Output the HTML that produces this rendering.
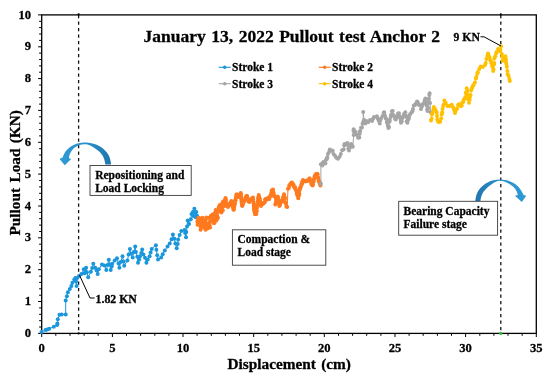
<!DOCTYPE html>
<html lang="en"><head><meta charset="utf-8"><title>January 13, 2022 Pullout test Anchor 2</title>
<style>html,body{margin:0;padding:0;background:#fff}svg{display:block}</style></head>
<body>
<svg width="550" height="379" viewBox="0 0 550 379" font-family="'Liberation Serif', 'Times New Roman', serif" font-weight="bold" fill="#000">
<style>text{stroke:#000;stroke-width:0.28px;paint-order:stroke}</style>
<rect width="550" height="379" fill="#fff"/>
<path d="M38.1,333.4H41.7M39.1,327.0H41.7M39.1,320.7H41.7M39.1,314.3H41.7M39.1,307.9H41.7M38.1,301.5H41.7M39.1,295.2H41.7M39.1,288.8H41.7M39.1,282.4H41.7M39.1,276.1H41.7M38.1,269.7H41.7M39.1,263.3H41.7M39.1,257.0H41.7M39.1,250.6H41.7M39.1,244.2H41.7M38.1,237.8H41.7M39.1,231.5H41.7M39.1,225.1H41.7M39.1,218.7H41.7M39.1,212.4H41.7M38.1,206.0H41.7M39.1,199.6H41.7M39.1,193.3H41.7M39.1,186.9H41.7M39.1,180.5H41.7M38.1,174.1H41.7M39.1,167.8H41.7M39.1,161.4H41.7M39.1,155.0H41.7M39.1,148.7H41.7M38.1,142.3H41.7M39.1,135.9H41.7M39.1,129.6H41.7M39.1,123.2H41.7M39.1,116.8H41.7M38.1,110.4H41.7M39.1,104.1H41.7M39.1,97.7H41.7M39.1,91.3H41.7M39.1,85.0H41.7M38.1,78.6H41.7M39.1,72.2H41.7M39.1,65.9H41.7M39.1,59.5H41.7M39.1,53.1H41.7M38.1,46.8H41.7M39.1,40.4H41.7M39.1,34.0H41.7M39.1,27.6H41.7M39.1,21.3H41.7M38.1,14.9H41.7M41.7,333.4V337.0M55.8,333.4V335.8M70.0,333.4V335.8M84.1,333.4V335.8M98.2,333.4V335.8M112.4,333.4V337.0M126.5,333.4V335.8M140.6,333.4V335.8M154.8,333.4V335.8M168.9,333.4V335.8M183.0,333.4V337.0M197.1,333.4V335.8M211.3,333.4V335.8M225.4,333.4V335.8M239.5,333.4V335.8M253.7,333.4V337.0M267.8,333.4V335.8M281.9,333.4V335.8M296.1,333.4V335.8M310.2,333.4V335.8M324.3,333.4V337.0M338.5,333.4V335.8M352.6,333.4V335.8M366.7,333.4V335.8M380.9,333.4V335.8M395.0,333.4V337.0M409.1,333.4V335.8M423.2,333.4V335.8M437.4,333.4V335.8M451.5,333.4V335.8M465.6,333.4V337.0M479.8,333.4V335.8M493.9,333.4V335.8M508.0,333.4V335.8M522.2,333.4V335.8M536.3,333.4V337.0" stroke="#000" stroke-width="1" fill="none"/>
<line x1="78.6" y1="14.9" x2="78.6" y2="333.4" stroke="#111" stroke-width="1.3" stroke-dasharray="3.4,3.1"/>
<circle cx="78.6" cy="14.3" r="1.1" fill="#000"/>
<line x1="500.8" y1="14.9" x2="500.8" y2="333.4" stroke="#111" stroke-width="1.3" stroke-dasharray="3.4,3.1"/>
<circle cx="500.8" cy="14.3" r="1.1" fill="#000"/>
<circle cx="78.6" cy="333.4" r="1.1" fill="#000"/>
<rect x="41.7" y="14.9" width="494.59999999999997" height="318.5" fill="none" stroke="#000" stroke-width="1.3"/>
<circle cx="500.8" cy="333.4" r="1.6" fill="#2fbf3a"/>
<text x="31" y="337.0" font-size="12.6" text-anchor="end">0</text>
<text x="31" y="305.1" font-size="12.6" text-anchor="end">1</text>
<text x="31" y="273.3" font-size="12.6" text-anchor="end">2</text>
<text x="31" y="241.4" font-size="12.6" text-anchor="end">3</text>
<text x="31" y="209.6" font-size="12.6" text-anchor="end">4</text>
<text x="31" y="177.7" font-size="12.6" text-anchor="end">5</text>
<text x="31" y="145.9" font-size="12.6" text-anchor="end">6</text>
<text x="31" y="114.0" font-size="12.6" text-anchor="end">7</text>
<text x="31" y="82.2" font-size="12.6" text-anchor="end">8</text>
<text x="31" y="50.4" font-size="12.6" text-anchor="end">9</text>
<text x="31" y="18.5" font-size="12.6" text-anchor="end">10</text>
<text x="41.7" y="352.1" font-size="12.6" text-anchor="middle">0</text>
<text x="112.4" y="352.1" font-size="12.6" text-anchor="middle">5</text>
<text x="183.0" y="352.1" font-size="12.6" text-anchor="middle">10</text>
<text x="253.7" y="352.1" font-size="12.6" text-anchor="middle">15</text>
<text x="324.3" y="352.1" font-size="12.6" text-anchor="middle">20</text>
<text x="395.0" y="352.1" font-size="12.6" text-anchor="middle">25</text>
<text x="465.6" y="352.1" font-size="12.6" text-anchor="middle">30</text>
<text x="536.3" y="352.1" font-size="12.6" text-anchor="middle">35</text>
<text x="289.2" y="369.3" font-size="15.3" text-anchor="middle" word-spacing="1.5">Displacement (cm)</text>
<text transform="translate(19.6,172.8) rotate(-90)" font-size="15.3" text-anchor="middle" word-spacing="1.5">Pullout Load (KN)</text>
<text x="143.6" y="42.3" font-size="17.5" word-spacing="1.1">January 13, 2022 Pullout test Anchor 2</text>
<path d="M41.5,332.0 L45.5,330.0 L47.2,329.4 L49.2,328.7 L53.8,326.7 L57.1,325.0 L57.4,323.6 L57.8,319.3 L59.5,314.8 L61.7,314.4 L65.7,314.4 L65.7,300.6 L66.9,296.2 L67.9,292.3 L69.8,289.1 L71.4,286.0 L72.4,282.8 L74.3,279.6 L75.4,278.0 L76.0,281.4 L76.6,286.0 L77.1,278.0 L79.0,276.0 L81.4,274.0 L83.8,269.3 L84.6,273.3 L86.1,267.7 L86.9,272.2 L88.2,277.2 L90.9,271.7 L92.2,268.0 L93.3,263.8 L95.2,267.7 L96.6,270.6 L97.7,274.0 L98.8,269.3 L102.0,264.6 L104.4,265.4 L106.3,270.1 L107.6,264.9 L108.8,259.8 L109.7,264.5 L110.7,270.1 L111.7,266.6 L112.3,263.8 L114.7,260.6 L117.0,258.2 L118.5,263.5 L119.4,267.7 L120.7,262.0 L122.5,256.3 L123.5,261.6 L124.2,265.8 L127.4,260.5 L128.6,254.4 L129.9,248.9 L131.1,253.7 L132.7,257.4 L133.8,252.0 L135.2,246.4 L135.9,251.9 L137.3,256.8 L138.0,262.7 L139.2,259.5 L140.0,256.3 L141.3,253.1 L142.2,249.5 L143.4,254.4 L145.0,257.7 L146.4,262.7 L147.7,259.5 L149.6,256.3 L150.6,252.4 L151.7,248.9 L155.9,245.3 L156.4,249.8 L157.2,255.2 L158.0,259.5 L161.2,257.4 L162.7,254.2 L164.8,250.4 L167.5,246.5 L169.7,243.6 L171.6,239.3 L172.9,234.5 L174.4,238.8 L175.4,243.6 L176.7,248.3 L177.7,244.0 L178.1,239.4 L179.6,235.1 L181.3,230.9 L184.5,229.9 L185.1,233.1 L186.0,237.3 L186.3,232.1 L187.0,226.6 L187.7,220.4 L189.0,224.0 L190.8,219.3 L191.5,214.0 L192.9,211.9 L193.3,216.0 L193.7,212.1 L194.4,208.7 L195.0,213.0 L195.7,217.2 L196.3,212.0 L197.2,216.1 L198.0,219.0" fill="none" stroke="#1A96DC" stroke-width="1.0" stroke-linejoin="round"/>
<g fill="#1A96DC"><circle cx="41.5" cy="332.0" r="2.0"/><circle cx="45.5" cy="330.0" r="2.0"/><circle cx="47.2" cy="329.4" r="2.0"/><circle cx="49.2" cy="328.7" r="2.0"/><circle cx="53.8" cy="326.7" r="2.0"/><circle cx="57.1" cy="325.0" r="2.0"/><circle cx="57.4" cy="323.6" r="2.0"/><circle cx="57.8" cy="319.3" r="2.0"/><circle cx="59.5" cy="314.8" r="2.0"/><circle cx="61.7" cy="314.4" r="2.0"/><circle cx="65.7" cy="314.4" r="2.0"/><circle cx="65.7" cy="300.6" r="2.0"/><circle cx="66.9" cy="296.2" r="2.0"/><circle cx="67.9" cy="292.3" r="2.0"/><circle cx="69.8" cy="289.1" r="2.0"/><circle cx="71.4" cy="286.0" r="2.0"/><circle cx="72.4" cy="282.8" r="2.0"/><circle cx="74.3" cy="279.6" r="2.0"/><circle cx="75.4" cy="278.0" r="2.0"/><circle cx="76.0" cy="281.4" r="2.0"/><circle cx="76.6" cy="286.0" r="2.0"/><circle cx="77.1" cy="278.0" r="2.0"/><circle cx="79.0" cy="276.0" r="2.0"/><circle cx="81.4" cy="274.0" r="2.0"/><circle cx="83.8" cy="269.3" r="2.0"/><circle cx="84.6" cy="273.3" r="2.0"/><circle cx="86.1" cy="267.7" r="2.0"/><circle cx="86.9" cy="272.2" r="2.0"/><circle cx="88.2" cy="277.2" r="2.0"/><circle cx="90.9" cy="271.7" r="2.0"/><circle cx="92.2" cy="268.0" r="2.0"/><circle cx="93.3" cy="263.8" r="2.0"/><circle cx="95.2" cy="267.7" r="2.0"/><circle cx="96.6" cy="270.6" r="2.0"/><circle cx="97.7" cy="274.0" r="2.0"/><circle cx="98.8" cy="269.3" r="2.0"/><circle cx="102.0" cy="264.6" r="2.0"/><circle cx="104.4" cy="265.4" r="2.0"/><circle cx="106.3" cy="270.1" r="2.0"/><circle cx="107.6" cy="264.9" r="2.0"/><circle cx="108.8" cy="259.8" r="2.0"/><circle cx="109.7" cy="264.5" r="2.0"/><circle cx="110.7" cy="270.1" r="2.0"/><circle cx="111.7" cy="266.6" r="2.0"/><circle cx="112.3" cy="263.8" r="2.0"/><circle cx="114.7" cy="260.6" r="2.0"/><circle cx="117.0" cy="258.2" r="2.0"/><circle cx="118.5" cy="263.5" r="2.0"/><circle cx="119.4" cy="267.7" r="2.0"/><circle cx="120.7" cy="262.0" r="2.0"/><circle cx="122.5" cy="256.3" r="2.0"/><circle cx="123.5" cy="261.6" r="2.0"/><circle cx="124.2" cy="265.8" r="2.0"/><circle cx="127.4" cy="260.5" r="2.0"/><circle cx="128.6" cy="254.4" r="2.0"/><circle cx="129.9" cy="248.9" r="2.0"/><circle cx="131.1" cy="253.7" r="2.0"/><circle cx="132.7" cy="257.4" r="2.0"/><circle cx="133.8" cy="252.0" r="2.0"/><circle cx="135.2" cy="246.4" r="2.0"/><circle cx="135.9" cy="251.9" r="2.0"/><circle cx="137.3" cy="256.8" r="2.0"/><circle cx="138.0" cy="262.7" r="2.0"/><circle cx="139.2" cy="259.5" r="2.0"/><circle cx="140.0" cy="256.3" r="2.0"/><circle cx="141.3" cy="253.1" r="2.0"/><circle cx="142.2" cy="249.5" r="2.0"/><circle cx="143.4" cy="254.4" r="2.0"/><circle cx="145.0" cy="257.7" r="2.0"/><circle cx="146.4" cy="262.7" r="2.0"/><circle cx="147.7" cy="259.5" r="2.0"/><circle cx="149.6" cy="256.3" r="2.0"/><circle cx="150.6" cy="252.4" r="2.0"/><circle cx="151.7" cy="248.9" r="2.0"/><circle cx="155.9" cy="245.3" r="2.0"/><circle cx="156.4" cy="249.8" r="2.0"/><circle cx="157.2" cy="255.2" r="2.0"/><circle cx="158.0" cy="259.5" r="2.0"/><circle cx="161.2" cy="257.4" r="2.0"/><circle cx="162.7" cy="254.2" r="2.0"/><circle cx="164.8" cy="250.4" r="2.0"/><circle cx="167.5" cy="246.5" r="2.0"/><circle cx="169.7" cy="243.6" r="2.0"/><circle cx="171.6" cy="239.3" r="2.0"/><circle cx="172.9" cy="234.5" r="2.0"/><circle cx="174.4" cy="238.8" r="2.0"/><circle cx="175.4" cy="243.6" r="2.0"/><circle cx="176.7" cy="248.3" r="2.0"/><circle cx="177.7" cy="244.0" r="2.0"/><circle cx="178.1" cy="239.4" r="2.0"/><circle cx="179.6" cy="235.1" r="2.0"/><circle cx="181.3" cy="230.9" r="2.0"/><circle cx="184.5" cy="229.9" r="2.0"/><circle cx="185.1" cy="233.1" r="2.0"/><circle cx="186.0" cy="237.3" r="2.0"/><circle cx="186.3" cy="232.1" r="2.0"/><circle cx="187.0" cy="226.6" r="2.0"/><circle cx="187.7" cy="220.4" r="2.0"/><circle cx="189.0" cy="224.0" r="2.0"/><circle cx="190.8" cy="219.3" r="2.0"/><circle cx="191.5" cy="214.0" r="2.0"/><circle cx="192.9" cy="211.9" r="2.0"/><circle cx="193.3" cy="216.0" r="2.0"/><circle cx="193.7" cy="212.1" r="2.0"/><circle cx="194.4" cy="208.7" r="2.0"/><circle cx="195.0" cy="213.0" r="2.0"/><circle cx="195.7" cy="217.2" r="2.0"/><circle cx="196.3" cy="212.0" r="2.0"/><circle cx="197.2" cy="216.1" r="2.0"/><circle cx="198.0" cy="219.0" r="2.0"/></g>

<path d="M197.4,221.2 L197.6,224.7 L197.9,223.5 L198.2,218.2 L198.5,217.7 L198.9,218.0 L199.1,222.5 L199.5,218.6 L199.8,225.2 L200.3,224.5 L200.6,229.7 L200.8,228.2 L201.1,218.9 L201.3,221.0 L201.8,219.3 L202.2,225.3 L202.5,224.1 L202.7,217.8 L203.0,225.8 L203.3,221.1 L203.7,222.9 L203.9,227.3 L204.4,220.2 L204.7,223.8 L205.2,226.5 L205.5,229.7 L205.7,222.4 L206.1,219.0 L206.5,217.5 L206.9,226.9 L207.3,228.4 L207.6,226.0 L207.9,224.5 L208.3,227.9 L208.8,223.2 L209.2,217.8 L209.6,225.4 L210.1,227.6 L210.3,221.5 L210.7,216.2 L211.1,217.6 L211.3,215.8 L211.7,216.1 L212.0,219.1 L212.5,214.5 L212.8,220.1 L213.3,222.9 L213.7,215.5 L214.1,216.2 L214.5,223.0 L214.8,213.0 L215.0,213.4 L215.4,217.3 L215.7,209.9 L216.0,213.9 L216.4,220.4 L216.8,214.7 L217.2,216.1 L217.4,218.4 L217.8,217.6 L218.3,211.5 L218.6,207.8 L219.0,206.9 L219.2,208.3 L219.4,209.4 L219.6,205.4 L219.9,206.2 L220.2,205.0 L220.7,210.9 L220.9,206.6 L221.2,207.5 L221.4,212.5 L221.9,207.7 L222.3,203.1 L222.5,205.6 L222.8,210.6 L223.0,201.4 L223.5,206.4 L223.8,206.3 L224.0,205.8 L224.5,203.0 L225.0,202.3 L224.9,200.2 L225.1,200.0 L225.5,198.0 L225.7,199.9 L225.8,199.7 L226.3,202.9 L226.5,203.6 L226.5,204.0 L227.2,205.6 L227.3,206.0 L228.0,207.0 L228.9,204.8 L230.0,205.0 L230.2,203.1 L230.7,202.8 L231.3,201.0 L231.9,202.1 L232.2,204.8 L232.5,204.4 L232.5,206.0 L232.7,206.6 L233.0,207.8 L233.5,209.8 L233.8,209.5 L234.2,207.1 L234.3,206.7 L234.3,205.0 L235.0,204.0 L235.0,202.0 L235.4,200.7 L235.3,200.3 L235.6,199.0 L236.2,196.7 L236.1,196.9 L236.4,194.5 L237.2,194.5 L237.6,195.3 L238.5,197.0 L239.3,196.8 L239.4,195.8 L240.4,194.4 L240.7,193.0 L240.8,194.5 L240.8,194.5 L241.5,197.6 L241.4,199.7 L241.5,200.0 L241.6,202.2 L242.0,201.6 L241.8,203.1 L241.9,205.0 L242.2,206.0 L242.5,204.5 L242.9,204.6 L243.5,202.1 L244.0,201.0 L244.7,200.8 L245.2,199.6 L245.9,197.3 L246.5,196.0 L247.0,195.9 L247.5,197.5 L248.0,199.5 L248.5,201.5 L249.5,202.0 L250.0,200.9 L251.0,200.1 L251.5,199.0 L252.1,198.2 L253.0,197.4 L253.2,199.6 L253.0,200.5 L253.2,201.3 L253.7,203.4 L253.7,205.5 L254.0,206.2 L253.9,207.8 L254.0,209.3 L254.3,211.0 L254.6,211.7 L254.9,214.0 L255.2,214.0 L256.0,214.0 L256.3,213.7 L256.6,210.8 L256.6,211.3 L256.9,207.9 L256.7,207.4 L256.9,205.6 L257.3,205.0 L257.2,204.0 L257.9,203.2 L257.7,201.3 L258.2,198.4 L258.5,199.1 L258.3,197.6 L258.7,195.0 L258.9,196.2 L259.5,198.3 L259.3,198.4 L259.7,199.4 L260.0,201.0 L260.1,201.8 L260.6,202.3 L260.8,204.6 L261.0,206.0 L261.5,204.6 L262.7,204.0 L263.4,203.0 L263.7,203.3 L264.8,202.2 L265.0,199.4 L265.8,199.0 L266.6,199.7 L267.8,198.0 L269.0,199.0 L269.4,198.8 L270.2,195.9 L270.2,196.3 L271.0,194.5 L271.4,192.7 L271.7,190.5 L272.6,190.4 L273.0,189.5 L273.0,192.1 L273.7,193.1 L273.7,194.7 L273.9,196.1 L274.5,196.6 L275.3,204.6 L275.7,202.8 L276.1,203.0 L276.4,199.6 L276.9,198.6 L277.1,197.1 L277.7,196.6 L277.7,197.2 L278.0,198.8 L278.5,200.1 L278.6,201.1 L278.8,202.1 L278.9,203.4 L279.3,206.0 L280.0,205.0 L280.3,203.6 L281.3,201.5 L281.6,201.4 L282.3,199.8 L282.6,199.4 L283.0,197.2 L283.6,197.0 L284.0,194.3 L284.2,196.6 L284.7,197.6 L284.7,198.3 L284.8,199.1 L285.1,202.2 L285.6,203.0 L286.0,203.5 L286.4,206.6 L287.2,207.0 L288.0,188.7 L288.9,187.9 L289.2,185.6 L290.0,185.0 L290.5,184.0 L291.1,183.1 L292.0,182.4 L292.4,184.5 L293.3,184.3 L293.5,185.0 L294.1,187.3 L295.0,187.2 L295.3,188.0 L295.6,189.3 L296.3,190.8 L296.8,192.0 L296.9,193.3 L297.1,193.9 L297.5,195.5 L297.7,195.7 L298.3,198.2 L298.4,196.1 L298.8,195.6 L299.1,194.5 L299.3,193.8 L299.3,191.0 L299.9,189.1 L299.8,188.7 L300.4,187.9 L300.4,187.2 L301.3,185.5 L301.5,184.0 L302.1,183.5 L302.3,181.4 L303.0,180.0 L304.1,181.1 L305.3,181.4 L306.2,180.8 L307.3,181.0 L308.4,179.7 L309.3,178.4 L309.7,178.4 L310.2,180.4 L311.0,182.0 L311.3,184.1 L312.0,184.7 L312.5,185.6 L312.9,184.7 L313.1,181.5 L313.6,182.0 L313.7,180.0 L314.1,178.8 L314.6,176.2 L314.9,176.0 L315.8,174.6 L316.2,173.9 L317.2,173.7 L317.7,174.4 L318.0,177.8 L318.2,177.7 L318.5,179.9 L318.8,180.8 L319.4,182.3 L319.7,182.1 L319.8,183.8 L320.4,185.6" fill="none" stroke="#FF7A1F" stroke-width="1.0" stroke-linejoin="round"/>
<g fill="#FF7A1F"><circle cx="197.4" cy="221.2" r="2.0"/><circle cx="197.6" cy="224.7" r="2.0"/><circle cx="197.9" cy="223.5" r="2.0"/><circle cx="198.2" cy="218.2" r="2.0"/><circle cx="198.5" cy="217.7" r="2.0"/><circle cx="198.9" cy="218.0" r="2.0"/><circle cx="199.1" cy="222.5" r="2.0"/><circle cx="199.5" cy="218.6" r="2.0"/><circle cx="199.8" cy="225.2" r="2.0"/><circle cx="200.3" cy="224.5" r="2.0"/><circle cx="200.6" cy="229.7" r="2.0"/><circle cx="200.8" cy="228.2" r="2.0"/><circle cx="201.1" cy="218.9" r="2.0"/><circle cx="201.3" cy="221.0" r="2.0"/><circle cx="201.8" cy="219.3" r="2.0"/><circle cx="202.2" cy="225.3" r="2.0"/><circle cx="202.5" cy="224.1" r="2.0"/><circle cx="202.7" cy="217.8" r="2.0"/><circle cx="203.0" cy="225.8" r="2.0"/><circle cx="203.3" cy="221.1" r="2.0"/><circle cx="203.7" cy="222.9" r="2.0"/><circle cx="203.9" cy="227.3" r="2.0"/><circle cx="204.4" cy="220.2" r="2.0"/><circle cx="204.7" cy="223.8" r="2.0"/><circle cx="205.2" cy="226.5" r="2.0"/><circle cx="205.5" cy="229.7" r="2.0"/><circle cx="205.7" cy="222.4" r="2.0"/><circle cx="206.1" cy="219.0" r="2.0"/><circle cx="206.5" cy="217.5" r="2.0"/><circle cx="206.9" cy="226.9" r="2.0"/><circle cx="207.3" cy="228.4" r="2.0"/><circle cx="207.6" cy="226.0" r="2.0"/><circle cx="207.9" cy="224.5" r="2.0"/><circle cx="208.3" cy="227.9" r="2.0"/><circle cx="208.8" cy="223.2" r="2.0"/><circle cx="209.2" cy="217.8" r="2.0"/><circle cx="209.6" cy="225.4" r="2.0"/><circle cx="210.1" cy="227.6" r="2.0"/><circle cx="210.3" cy="221.5" r="2.0"/><circle cx="210.7" cy="216.2" r="2.0"/><circle cx="211.1" cy="217.6" r="2.0"/><circle cx="211.3" cy="215.8" r="2.0"/><circle cx="211.7" cy="216.1" r="2.0"/><circle cx="212.0" cy="219.1" r="2.0"/><circle cx="212.5" cy="214.5" r="2.0"/><circle cx="212.8" cy="220.1" r="2.0"/><circle cx="213.3" cy="222.9" r="2.0"/><circle cx="213.7" cy="215.5" r="2.0"/><circle cx="214.1" cy="216.2" r="2.0"/><circle cx="214.5" cy="223.0" r="2.0"/><circle cx="214.8" cy="213.0" r="2.0"/><circle cx="215.0" cy="213.4" r="2.0"/><circle cx="215.4" cy="217.3" r="2.0"/><circle cx="215.7" cy="209.9" r="2.0"/><circle cx="216.0" cy="213.9" r="2.0"/><circle cx="216.4" cy="220.4" r="2.0"/><circle cx="216.8" cy="214.7" r="2.0"/><circle cx="217.2" cy="216.1" r="2.0"/><circle cx="217.4" cy="218.4" r="2.0"/><circle cx="217.8" cy="217.6" r="2.0"/><circle cx="218.3" cy="211.5" r="2.0"/><circle cx="218.6" cy="207.8" r="2.0"/><circle cx="219.0" cy="206.9" r="2.0"/><circle cx="219.2" cy="208.3" r="2.0"/><circle cx="219.4" cy="209.4" r="2.0"/><circle cx="219.6" cy="205.4" r="2.0"/><circle cx="219.9" cy="206.2" r="2.0"/><circle cx="220.2" cy="205.0" r="2.0"/><circle cx="220.7" cy="210.9" r="2.0"/><circle cx="220.9" cy="206.6" r="2.0"/><circle cx="221.2" cy="207.5" r="2.0"/><circle cx="221.4" cy="212.5" r="2.0"/><circle cx="221.9" cy="207.7" r="2.0"/><circle cx="222.3" cy="203.1" r="2.0"/><circle cx="222.5" cy="205.6" r="2.0"/><circle cx="222.8" cy="210.6" r="2.0"/><circle cx="223.0" cy="201.4" r="2.0"/><circle cx="223.5" cy="206.4" r="2.0"/><circle cx="223.8" cy="206.3" r="2.0"/><circle cx="224.0" cy="205.8" r="2.0"/><circle cx="224.5" cy="203.0" r="2.0"/><circle cx="225.0" cy="202.3" r="2.0"/><circle cx="224.9" cy="200.2" r="2.0"/><circle cx="225.1" cy="200.0" r="2.0"/><circle cx="225.5" cy="198.0" r="2.0"/><circle cx="225.7" cy="199.9" r="2.0"/><circle cx="225.8" cy="199.7" r="2.0"/><circle cx="226.3" cy="202.9" r="2.0"/><circle cx="226.5" cy="203.6" r="2.0"/><circle cx="226.5" cy="204.0" r="2.0"/><circle cx="227.2" cy="205.6" r="2.0"/><circle cx="227.3" cy="206.0" r="2.0"/><circle cx="228.0" cy="207.0" r="2.0"/><circle cx="228.9" cy="204.8" r="2.0"/><circle cx="230.0" cy="205.0" r="2.0"/><circle cx="230.2" cy="203.1" r="2.0"/><circle cx="230.7" cy="202.8" r="2.0"/><circle cx="231.3" cy="201.0" r="2.0"/><circle cx="231.9" cy="202.1" r="2.0"/><circle cx="232.2" cy="204.8" r="2.0"/><circle cx="232.5" cy="204.4" r="2.0"/><circle cx="232.5" cy="206.0" r="2.0"/><circle cx="232.7" cy="206.6" r="2.0"/><circle cx="233.0" cy="207.8" r="2.0"/><circle cx="233.5" cy="209.8" r="2.0"/><circle cx="233.8" cy="209.5" r="2.0"/><circle cx="234.2" cy="207.1" r="2.0"/><circle cx="234.3" cy="206.7" r="2.0"/><circle cx="234.3" cy="205.0" r="2.0"/><circle cx="235.0" cy="204.0" r="2.0"/><circle cx="235.0" cy="202.0" r="2.0"/><circle cx="235.4" cy="200.7" r="2.0"/><circle cx="235.3" cy="200.3" r="2.0"/><circle cx="235.6" cy="199.0" r="2.0"/><circle cx="236.2" cy="196.7" r="2.0"/><circle cx="236.1" cy="196.9" r="2.0"/><circle cx="236.4" cy="194.5" r="2.0"/><circle cx="237.2" cy="194.5" r="2.0"/><circle cx="237.6" cy="195.3" r="2.0"/><circle cx="238.5" cy="197.0" r="2.0"/><circle cx="239.3" cy="196.8" r="2.0"/><circle cx="239.4" cy="195.8" r="2.0"/><circle cx="240.4" cy="194.4" r="2.0"/><circle cx="240.7" cy="193.0" r="2.0"/><circle cx="240.8" cy="194.5" r="2.0"/><circle cx="240.8" cy="194.5" r="2.0"/><circle cx="241.5" cy="197.6" r="2.0"/><circle cx="241.4" cy="199.7" r="2.0"/><circle cx="241.5" cy="200.0" r="2.0"/><circle cx="241.6" cy="202.2" r="2.0"/><circle cx="242.0" cy="201.6" r="2.0"/><circle cx="241.8" cy="203.1" r="2.0"/><circle cx="241.9" cy="205.0" r="2.0"/><circle cx="242.2" cy="206.0" r="2.0"/><circle cx="242.5" cy="204.5" r="2.0"/><circle cx="242.9" cy="204.6" r="2.0"/><circle cx="243.5" cy="202.1" r="2.0"/><circle cx="244.0" cy="201.0" r="2.0"/><circle cx="244.7" cy="200.8" r="2.0"/><circle cx="245.2" cy="199.6" r="2.0"/><circle cx="245.9" cy="197.3" r="2.0"/><circle cx="246.5" cy="196.0" r="2.0"/><circle cx="247.0" cy="195.9" r="2.0"/><circle cx="247.5" cy="197.5" r="2.0"/><circle cx="248.0" cy="199.5" r="2.0"/><circle cx="248.5" cy="201.5" r="2.0"/><circle cx="249.5" cy="202.0" r="2.0"/><circle cx="250.0" cy="200.9" r="2.0"/><circle cx="251.0" cy="200.1" r="2.0"/><circle cx="251.5" cy="199.0" r="2.0"/><circle cx="252.1" cy="198.2" r="2.0"/><circle cx="253.0" cy="197.4" r="2.0"/><circle cx="253.2" cy="199.6" r="2.0"/><circle cx="253.0" cy="200.5" r="2.0"/><circle cx="253.2" cy="201.3" r="2.0"/><circle cx="253.7" cy="203.4" r="2.0"/><circle cx="253.7" cy="205.5" r="2.0"/><circle cx="254.0" cy="206.2" r="2.0"/><circle cx="253.9" cy="207.8" r="2.0"/><circle cx="254.0" cy="209.3" r="2.0"/><circle cx="254.3" cy="211.0" r="2.0"/><circle cx="254.6" cy="211.7" r="2.0"/><circle cx="254.9" cy="214.0" r="2.0"/><circle cx="255.2" cy="214.0" r="2.0"/><circle cx="256.0" cy="214.0" r="2.0"/><circle cx="256.3" cy="213.7" r="2.0"/><circle cx="256.6" cy="210.8" r="2.0"/><circle cx="256.6" cy="211.3" r="2.0"/><circle cx="256.9" cy="207.9" r="2.0"/><circle cx="256.7" cy="207.4" r="2.0"/><circle cx="256.9" cy="205.6" r="2.0"/><circle cx="257.3" cy="205.0" r="2.0"/><circle cx="257.2" cy="204.0" r="2.0"/><circle cx="257.9" cy="203.2" r="2.0"/><circle cx="257.7" cy="201.3" r="2.0"/><circle cx="258.2" cy="198.4" r="2.0"/><circle cx="258.5" cy="199.1" r="2.0"/><circle cx="258.3" cy="197.6" r="2.0"/><circle cx="258.7" cy="195.0" r="2.0"/><circle cx="258.9" cy="196.2" r="2.0"/><circle cx="259.5" cy="198.3" r="2.0"/><circle cx="259.3" cy="198.4" r="2.0"/><circle cx="259.7" cy="199.4" r="2.0"/><circle cx="260.0" cy="201.0" r="2.0"/><circle cx="260.1" cy="201.8" r="2.0"/><circle cx="260.6" cy="202.3" r="2.0"/><circle cx="260.8" cy="204.6" r="2.0"/><circle cx="261.0" cy="206.0" r="2.0"/><circle cx="261.5" cy="204.6" r="2.0"/><circle cx="262.7" cy="204.0" r="2.0"/><circle cx="263.4" cy="203.0" r="2.0"/><circle cx="263.7" cy="203.3" r="2.0"/><circle cx="264.8" cy="202.2" r="2.0"/><circle cx="265.0" cy="199.4" r="2.0"/><circle cx="265.8" cy="199.0" r="2.0"/><circle cx="266.6" cy="199.7" r="2.0"/><circle cx="267.8" cy="198.0" r="2.0"/><circle cx="269.0" cy="199.0" r="2.0"/><circle cx="269.4" cy="198.8" r="2.0"/><circle cx="270.2" cy="195.9" r="2.0"/><circle cx="270.2" cy="196.3" r="2.0"/><circle cx="271.0" cy="194.5" r="2.0"/><circle cx="271.4" cy="192.7" r="2.0"/><circle cx="271.7" cy="190.5" r="2.0"/><circle cx="272.6" cy="190.4" r="2.0"/><circle cx="273.0" cy="189.5" r="2.0"/><circle cx="273.0" cy="192.1" r="2.0"/><circle cx="273.7" cy="193.1" r="2.0"/><circle cx="273.7" cy="194.7" r="2.0"/><circle cx="273.9" cy="196.1" r="2.0"/><circle cx="274.5" cy="196.6" r="2.0"/><circle cx="275.3" cy="204.6" r="2.0"/><circle cx="275.7" cy="202.8" r="2.0"/><circle cx="276.1" cy="203.0" r="2.0"/><circle cx="276.4" cy="199.6" r="2.0"/><circle cx="276.9" cy="198.6" r="2.0"/><circle cx="277.1" cy="197.1" r="2.0"/><circle cx="277.7" cy="196.6" r="2.0"/><circle cx="277.7" cy="197.2" r="2.0"/><circle cx="278.0" cy="198.8" r="2.0"/><circle cx="278.5" cy="200.1" r="2.0"/><circle cx="278.6" cy="201.1" r="2.0"/><circle cx="278.8" cy="202.1" r="2.0"/><circle cx="278.9" cy="203.4" r="2.0"/><circle cx="279.3" cy="206.0" r="2.0"/><circle cx="280.0" cy="205.0" r="2.0"/><circle cx="280.3" cy="203.6" r="2.0"/><circle cx="281.3" cy="201.5" r="2.0"/><circle cx="281.6" cy="201.4" r="2.0"/><circle cx="282.3" cy="199.8" r="2.0"/><circle cx="282.6" cy="199.4" r="2.0"/><circle cx="283.0" cy="197.2" r="2.0"/><circle cx="283.6" cy="197.0" r="2.0"/><circle cx="284.0" cy="194.3" r="2.0"/><circle cx="284.2" cy="196.6" r="2.0"/><circle cx="284.7" cy="197.6" r="2.0"/><circle cx="284.7" cy="198.3" r="2.0"/><circle cx="284.8" cy="199.1" r="2.0"/><circle cx="285.1" cy="202.2" r="2.0"/><circle cx="285.6" cy="203.0" r="2.0"/><circle cx="286.0" cy="203.5" r="2.0"/><circle cx="286.4" cy="206.6" r="2.0"/><circle cx="287.2" cy="207.0" r="2.0"/><circle cx="288.0" cy="188.7" r="2.0"/><circle cx="288.9" cy="187.9" r="2.0"/><circle cx="289.2" cy="185.6" r="2.0"/><circle cx="290.0" cy="185.0" r="2.0"/><circle cx="290.5" cy="184.0" r="2.0"/><circle cx="291.1" cy="183.1" r="2.0"/><circle cx="292.0" cy="182.4" r="2.0"/><circle cx="292.4" cy="184.5" r="2.0"/><circle cx="293.3" cy="184.3" r="2.0"/><circle cx="293.5" cy="185.0" r="2.0"/><circle cx="294.1" cy="187.3" r="2.0"/><circle cx="295.0" cy="187.2" r="2.0"/><circle cx="295.3" cy="188.0" r="2.0"/><circle cx="295.6" cy="189.3" r="2.0"/><circle cx="296.3" cy="190.8" r="2.0"/><circle cx="296.8" cy="192.0" r="2.0"/><circle cx="296.9" cy="193.3" r="2.0"/><circle cx="297.1" cy="193.9" r="2.0"/><circle cx="297.5" cy="195.5" r="2.0"/><circle cx="297.7" cy="195.7" r="2.0"/><circle cx="298.3" cy="198.2" r="2.0"/><circle cx="298.4" cy="196.1" r="2.0"/><circle cx="298.8" cy="195.6" r="2.0"/><circle cx="299.1" cy="194.5" r="2.0"/><circle cx="299.3" cy="193.8" r="2.0"/><circle cx="299.3" cy="191.0" r="2.0"/><circle cx="299.9" cy="189.1" r="2.0"/><circle cx="299.8" cy="188.7" r="2.0"/><circle cx="300.4" cy="187.9" r="2.0"/><circle cx="300.4" cy="187.2" r="2.0"/><circle cx="301.3" cy="185.5" r="2.0"/><circle cx="301.5" cy="184.0" r="2.0"/><circle cx="302.1" cy="183.5" r="2.0"/><circle cx="302.3" cy="181.4" r="2.0"/><circle cx="303.0" cy="180.0" r="2.0"/><circle cx="304.1" cy="181.1" r="2.0"/><circle cx="305.3" cy="181.4" r="2.0"/><circle cx="306.2" cy="180.8" r="2.0"/><circle cx="307.3" cy="181.0" r="2.0"/><circle cx="308.4" cy="179.7" r="2.0"/><circle cx="309.3" cy="178.4" r="2.0"/><circle cx="309.7" cy="178.4" r="2.0"/><circle cx="310.2" cy="180.4" r="2.0"/><circle cx="311.0" cy="182.0" r="2.0"/><circle cx="311.3" cy="184.1" r="2.0"/><circle cx="312.0" cy="184.7" r="2.0"/><circle cx="312.5" cy="185.6" r="2.0"/><circle cx="312.9" cy="184.7" r="2.0"/><circle cx="313.1" cy="181.5" r="2.0"/><circle cx="313.6" cy="182.0" r="2.0"/><circle cx="313.7" cy="180.0" r="2.0"/><circle cx="314.1" cy="178.8" r="2.0"/><circle cx="314.6" cy="176.2" r="2.0"/><circle cx="314.9" cy="176.0" r="2.0"/><circle cx="315.8" cy="174.6" r="2.0"/><circle cx="316.2" cy="173.9" r="2.0"/><circle cx="317.2" cy="173.7" r="2.0"/><circle cx="317.7" cy="174.4" r="2.0"/><circle cx="318.0" cy="177.8" r="2.0"/><circle cx="318.2" cy="177.7" r="2.0"/><circle cx="318.5" cy="179.9" r="2.0"/><circle cx="318.8" cy="180.8" r="2.0"/><circle cx="319.4" cy="182.3" r="2.0"/><circle cx="319.7" cy="182.1" r="2.0"/><circle cx="319.8" cy="183.8" r="2.0"/><circle cx="320.4" cy="185.6" r="2.0"/></g>

<path d="M320.9,183.7 L320.9,164.3 L322.3,165.5 L322.9,162.7 L323.5,162.0 L325.0,163.5 L325.4,163.2 L326.0,159.7 L326.9,158.9 L327.3,157.3 L327.9,154.0 L329.1,151.9 L329.8,149.5 L331.6,150.4 L332.7,150.7 L333.5,154.0 L335.0,155.7 L336.2,157.8 L338.0,158.7 L339.6,156.8 L340.8,154.0 L342.1,150.2 L343.6,149.5 L344.3,145.5 L344.5,144.0 L347.3,143.0 L347.8,144.9 L348.3,148.7 L349.0,150.4 L350.0,147.5 L350.4,145.5 L351.0,144.0 L351.9,145.0 L352.8,146.7 L353.7,135.0 L353.5,130.9 L353.7,129.2 L354.5,132.4 L355.6,132.0 L356.5,134.8 L358.1,137.8 L359.3,137.5 L359.6,134.1 L359.7,131.8 L360.2,131.0 L361.0,127.8 L362.0,127.4 L362.5,123.8 L363.3,121.8 L363.2,112.0 L364.0,120.0 L364.6,123.1 L365.2,123.6 L366.5,121.0 L368.1,122.2 L370.0,120.0 L372.0,121.0 L373.1,118.7 L374.0,117.0 L376.9,116.3 L377.6,118.2 L378.5,120.0 L379.1,121.2 L379.8,123.6 L380.1,120.3 L381.0,118.5 L382.5,116.0 L383.6,112.8 L384.2,112.2 L384.9,115.5 L385.5,118.0 L386.4,119.0 L386.8,122.0 L387.2,123.1 L387.8,125.8 L388.4,128.0 L389.0,126.9 L389.4,121.7 L389.5,121.0 L389.7,119.7 L390.7,116.9 L391.0,115.0 L391.9,111.3 L392.7,111.0 L393.3,115.0 L394.0,116.0 L395.1,119.0 L395.8,119.6 L396.9,116.9 L397.5,116.0 L398.0,113.4 L399.0,113.2 L399.5,116.2 L400.0,118.0 L400.8,121.1 L401.0,122.7 L401.8,121.3 L402.5,118.0 L403.2,116.2 L404.0,114.0 L405.3,112.2 L405.6,115.6 L406.4,117.0 L406.7,121.3 L407.4,122.7 L408.3,119.7 L409.0,118.0 L409.4,115.2 L410.3,114.0 L411.6,112.2 L412.4,111.3 L413.0,109.0 L413.8,105.5 L415.0,105.0 L416.0,103.6 L417.0,101.6 L417.9,102.4 L419.0,105.0 L420.1,105.3 L421.0,109.0 L421.9,106.4 L423.0,104.0 L424.1,102.7 L424.8,100.2 L425.4,98.5 L425.6,99.8 L426.4,103.5 L426.5,105.0 L426.7,105.4 L427.2,109.6 L427.5,111.0 L427.7,107.9 L428.1,107.9 L428.1,102.7 L428.5,102.0 L428.8,98.8 L429.3,95.1 L429.6,93.2 L430.1,103.0 L430.6,112.2" fill="none" stroke="#A5A5A5" stroke-width="1.0" stroke-linejoin="round"/>
<g fill="#A5A5A5"><circle cx="320.9" cy="183.7" r="2.0"/><circle cx="320.9" cy="164.3" r="2.0"/><circle cx="322.3" cy="165.5" r="2.0"/><circle cx="322.9" cy="162.7" r="2.0"/><circle cx="323.5" cy="162.0" r="2.0"/><circle cx="325.0" cy="163.5" r="2.0"/><circle cx="325.4" cy="163.2" r="2.0"/><circle cx="326.0" cy="159.7" r="2.0"/><circle cx="326.9" cy="158.9" r="2.0"/><circle cx="327.3" cy="157.3" r="2.0"/><circle cx="327.9" cy="154.0" r="2.0"/><circle cx="329.1" cy="151.9" r="2.0"/><circle cx="329.8" cy="149.5" r="2.0"/><circle cx="331.6" cy="150.4" r="2.0"/><circle cx="332.7" cy="150.7" r="2.0"/><circle cx="333.5" cy="154.0" r="2.0"/><circle cx="335.0" cy="155.7" r="2.0"/><circle cx="336.2" cy="157.8" r="2.0"/><circle cx="338.0" cy="158.7" r="2.0"/><circle cx="339.6" cy="156.8" r="2.0"/><circle cx="340.8" cy="154.0" r="2.0"/><circle cx="342.1" cy="150.2" r="2.0"/><circle cx="343.6" cy="149.5" r="2.0"/><circle cx="344.3" cy="145.5" r="2.0"/><circle cx="344.5" cy="144.0" r="2.0"/><circle cx="347.3" cy="143.0" r="2.0"/><circle cx="347.8" cy="144.9" r="2.0"/><circle cx="348.3" cy="148.7" r="2.0"/><circle cx="349.0" cy="150.4" r="2.0"/><circle cx="350.0" cy="147.5" r="2.0"/><circle cx="350.4" cy="145.5" r="2.0"/><circle cx="351.0" cy="144.0" r="2.0"/><circle cx="351.9" cy="145.0" r="2.0"/><circle cx="352.8" cy="146.7" r="2.0"/><circle cx="353.7" cy="135.0" r="2.0"/><circle cx="353.5" cy="130.9" r="2.0"/><circle cx="353.7" cy="129.2" r="2.0"/><circle cx="354.5" cy="132.4" r="2.0"/><circle cx="355.6" cy="132.0" r="2.0"/><circle cx="356.5" cy="134.8" r="2.0"/><circle cx="358.1" cy="137.8" r="2.0"/><circle cx="359.3" cy="137.5" r="2.0"/><circle cx="359.6" cy="134.1" r="2.0"/><circle cx="359.7" cy="131.8" r="2.0"/><circle cx="360.2" cy="131.0" r="2.0"/><circle cx="361.0" cy="127.8" r="2.0"/><circle cx="362.0" cy="127.4" r="2.0"/><circle cx="362.5" cy="123.8" r="2.0"/><circle cx="363.3" cy="121.8" r="2.0"/><circle cx="363.2" cy="112.0" r="2.0"/><circle cx="364.0" cy="120.0" r="2.0"/><circle cx="364.6" cy="123.1" r="2.0"/><circle cx="365.2" cy="123.6" r="2.0"/><circle cx="366.5" cy="121.0" r="2.0"/><circle cx="368.1" cy="122.2" r="2.0"/><circle cx="370.0" cy="120.0" r="2.0"/><circle cx="372.0" cy="121.0" r="2.0"/><circle cx="373.1" cy="118.7" r="2.0"/><circle cx="374.0" cy="117.0" r="2.0"/><circle cx="376.9" cy="116.3" r="2.0"/><circle cx="377.6" cy="118.2" r="2.0"/><circle cx="378.5" cy="120.0" r="2.0"/><circle cx="379.1" cy="121.2" r="2.0"/><circle cx="379.8" cy="123.6" r="2.0"/><circle cx="380.1" cy="120.3" r="2.0"/><circle cx="381.0" cy="118.5" r="2.0"/><circle cx="382.5" cy="116.0" r="2.0"/><circle cx="383.6" cy="112.8" r="2.0"/><circle cx="384.2" cy="112.2" r="2.0"/><circle cx="384.9" cy="115.5" r="2.0"/><circle cx="385.5" cy="118.0" r="2.0"/><circle cx="386.4" cy="119.0" r="2.0"/><circle cx="386.8" cy="122.0" r="2.0"/><circle cx="387.2" cy="123.1" r="2.0"/><circle cx="387.8" cy="125.8" r="2.0"/><circle cx="388.4" cy="128.0" r="2.0"/><circle cx="389.0" cy="126.9" r="2.0"/><circle cx="389.4" cy="121.7" r="2.0"/><circle cx="389.5" cy="121.0" r="2.0"/><circle cx="389.7" cy="119.7" r="2.0"/><circle cx="390.7" cy="116.9" r="2.0"/><circle cx="391.0" cy="115.0" r="2.0"/><circle cx="391.9" cy="111.3" r="2.0"/><circle cx="392.7" cy="111.0" r="2.0"/><circle cx="393.3" cy="115.0" r="2.0"/><circle cx="394.0" cy="116.0" r="2.0"/><circle cx="395.1" cy="119.0" r="2.0"/><circle cx="395.8" cy="119.6" r="2.0"/><circle cx="396.9" cy="116.9" r="2.0"/><circle cx="397.5" cy="116.0" r="2.0"/><circle cx="398.0" cy="113.4" r="2.0"/><circle cx="399.0" cy="113.2" r="2.0"/><circle cx="399.5" cy="116.2" r="2.0"/><circle cx="400.0" cy="118.0" r="2.0"/><circle cx="400.8" cy="121.1" r="2.0"/><circle cx="401.0" cy="122.7" r="2.0"/><circle cx="401.8" cy="121.3" r="2.0"/><circle cx="402.5" cy="118.0" r="2.0"/><circle cx="403.2" cy="116.2" r="2.0"/><circle cx="404.0" cy="114.0" r="2.0"/><circle cx="405.3" cy="112.2" r="2.0"/><circle cx="405.6" cy="115.6" r="2.0"/><circle cx="406.4" cy="117.0" r="2.0"/><circle cx="406.7" cy="121.3" r="2.0"/><circle cx="407.4" cy="122.7" r="2.0"/><circle cx="408.3" cy="119.7" r="2.0"/><circle cx="409.0" cy="118.0" r="2.0"/><circle cx="409.4" cy="115.2" r="2.0"/><circle cx="410.3" cy="114.0" r="2.0"/><circle cx="411.6" cy="112.2" r="2.0"/><circle cx="412.4" cy="111.3" r="2.0"/><circle cx="413.0" cy="109.0" r="2.0"/><circle cx="413.8" cy="105.5" r="2.0"/><circle cx="415.0" cy="105.0" r="2.0"/><circle cx="416.0" cy="103.6" r="2.0"/><circle cx="417.0" cy="101.6" r="2.0"/><circle cx="417.9" cy="102.4" r="2.0"/><circle cx="419.0" cy="105.0" r="2.0"/><circle cx="420.1" cy="105.3" r="2.0"/><circle cx="421.0" cy="109.0" r="2.0"/><circle cx="421.9" cy="106.4" r="2.0"/><circle cx="423.0" cy="104.0" r="2.0"/><circle cx="424.1" cy="102.7" r="2.0"/><circle cx="424.8" cy="100.2" r="2.0"/><circle cx="425.4" cy="98.5" r="2.0"/><circle cx="425.6" cy="99.8" r="2.0"/><circle cx="426.4" cy="103.5" r="2.0"/><circle cx="426.5" cy="105.0" r="2.0"/><circle cx="426.7" cy="105.4" r="2.0"/><circle cx="427.2" cy="109.6" r="2.0"/><circle cx="427.5" cy="111.0" r="2.0"/><circle cx="427.7" cy="107.9" r="2.0"/><circle cx="428.1" cy="107.9" r="2.0"/><circle cx="428.1" cy="102.7" r="2.0"/><circle cx="428.5" cy="102.0" r="2.0"/><circle cx="428.8" cy="98.8" r="2.0"/><circle cx="429.3" cy="95.1" r="2.0"/><circle cx="429.6" cy="93.2" r="2.0"/><circle cx="430.1" cy="103.0" r="2.0"/><circle cx="430.6" cy="112.2" r="2.0"/></g>

<path d="M431.0,120.6 L431.6,118.8 L431.9,114.6 L432.4,113.0 L433.4,109.4 L433.8,107.0 L435.0,109.0 L436.0,111.0 L436.7,112.7 L437.0,116.0 L437.3,119.6 L438.0,121.7 L439.5,122.0 L440.2,121.6 L441.2,118.5 L441.7,114.4 L442.2,112.2 L442.5,108.9 L443.2,106.0 L443.8,104.6 L444.3,100.6 L445.8,103.0 L447.5,105.9 L449.5,106.0 L451.7,104.8 L453.0,107.2 L454.0,110.0 L455.0,113.0 L455.5,110.7 L456.5,109.0 L457.1,108.4 L458.0,105.0 L459.0,104.3 L460.5,106.0 L461.8,105.8 L462.3,102.6 L463.2,102.0 L463.7,99.9 L464.7,98.5 L465.4,96.9 L465.7,93.0 L466.3,92.1 L466.7,88.3 L467.5,91.1 L467.8,95.0 L468.0,98.9 L468.7,98.8 L469.0,102.8 L469.6,99.8 L469.9,97.1 L470.5,95.0 L471.1,90.2 L472.0,88.3 L472.6,86.2 L473.5,85.0 L474.9,82.5 L475.9,78.6 L476.3,77.0 L477.3,73.8 L477.8,72.3 L479.2,69.0 L480.7,66.5 L482.8,67.0 L485.0,65.0 L485.7,63.0 L486.5,59.0 L487.4,56.0 L488.0,53.4 L488.5,55.1 L489.5,57.0 L490.1,60.1 L490.9,60.7 L491.3,62.9 L492.0,66.0 L492.8,67.0 L493.2,70.9 L493.5,69.2 L494.0,64.3 L494.2,63.0 L494.4,58.3 L495.2,56.3 L496.2,53.4 L496.6,52.0 L498.1,49.0 L499.5,51.0 L500.4,49.8 L501.0,46.2 L501.8,54.0 L502.1,56.7 L502.5,60.7 L504.0,58.0 L505.4,56.3 L506.0,59.2 L505.9,62.1 L506.4,64.0 L506.8,66.8 L507.4,70.9 L507.7,74.2 L508.6,76.0 L509.4,78.9 L509.8,81.0" fill="none" stroke="#FFC000" stroke-width="1.0" stroke-linejoin="round"/>
<g fill="#FFC000"><circle cx="431.0" cy="120.6" r="2.0"/><circle cx="431.6" cy="118.8" r="2.0"/><circle cx="431.9" cy="114.6" r="2.0"/><circle cx="432.4" cy="113.0" r="2.0"/><circle cx="433.4" cy="109.4" r="2.0"/><circle cx="433.8" cy="107.0" r="2.0"/><circle cx="435.0" cy="109.0" r="2.0"/><circle cx="436.0" cy="111.0" r="2.0"/><circle cx="436.7" cy="112.7" r="2.0"/><circle cx="437.0" cy="116.0" r="2.0"/><circle cx="437.3" cy="119.6" r="2.0"/><circle cx="438.0" cy="121.7" r="2.0"/><circle cx="439.5" cy="122.0" r="2.0"/><circle cx="440.2" cy="121.6" r="2.0"/><circle cx="441.2" cy="118.5" r="2.0"/><circle cx="441.7" cy="114.4" r="2.0"/><circle cx="442.2" cy="112.2" r="2.0"/><circle cx="442.5" cy="108.9" r="2.0"/><circle cx="443.2" cy="106.0" r="2.0"/><circle cx="443.8" cy="104.6" r="2.0"/><circle cx="444.3" cy="100.6" r="2.0"/><circle cx="445.8" cy="103.0" r="2.0"/><circle cx="447.5" cy="105.9" r="2.0"/><circle cx="449.5" cy="106.0" r="2.0"/><circle cx="451.7" cy="104.8" r="2.0"/><circle cx="453.0" cy="107.2" r="2.0"/><circle cx="454.0" cy="110.0" r="2.0"/><circle cx="455.0" cy="113.0" r="2.0"/><circle cx="455.5" cy="110.7" r="2.0"/><circle cx="456.5" cy="109.0" r="2.0"/><circle cx="457.1" cy="108.4" r="2.0"/><circle cx="458.0" cy="105.0" r="2.0"/><circle cx="459.0" cy="104.3" r="2.0"/><circle cx="460.5" cy="106.0" r="2.0"/><circle cx="461.8" cy="105.8" r="2.0"/><circle cx="462.3" cy="102.6" r="2.0"/><circle cx="463.2" cy="102.0" r="2.0"/><circle cx="463.7" cy="99.9" r="2.0"/><circle cx="464.7" cy="98.5" r="2.0"/><circle cx="465.4" cy="96.9" r="2.0"/><circle cx="465.7" cy="93.0" r="2.0"/><circle cx="466.3" cy="92.1" r="2.0"/><circle cx="466.7" cy="88.3" r="2.0"/><circle cx="467.5" cy="91.1" r="2.0"/><circle cx="467.8" cy="95.0" r="2.0"/><circle cx="468.0" cy="98.9" r="2.0"/><circle cx="468.7" cy="98.8" r="2.0"/><circle cx="469.0" cy="102.8" r="2.0"/><circle cx="469.6" cy="99.8" r="2.0"/><circle cx="469.9" cy="97.1" r="2.0"/><circle cx="470.5" cy="95.0" r="2.0"/><circle cx="471.1" cy="90.2" r="2.0"/><circle cx="472.0" cy="88.3" r="2.0"/><circle cx="472.6" cy="86.2" r="2.0"/><circle cx="473.5" cy="85.0" r="2.0"/><circle cx="474.9" cy="82.5" r="2.0"/><circle cx="475.9" cy="78.6" r="2.0"/><circle cx="476.3" cy="77.0" r="2.0"/><circle cx="477.3" cy="73.8" r="2.0"/><circle cx="477.8" cy="72.3" r="2.0"/><circle cx="479.2" cy="69.0" r="2.0"/><circle cx="480.7" cy="66.5" r="2.0"/><circle cx="482.8" cy="67.0" r="2.0"/><circle cx="485.0" cy="65.0" r="2.0"/><circle cx="485.7" cy="63.0" r="2.0"/><circle cx="486.5" cy="59.0" r="2.0"/><circle cx="487.4" cy="56.0" r="2.0"/><circle cx="488.0" cy="53.4" r="2.0"/><circle cx="488.5" cy="55.1" r="2.0"/><circle cx="489.5" cy="57.0" r="2.0"/><circle cx="490.1" cy="60.1" r="2.0"/><circle cx="490.9" cy="60.7" r="2.0"/><circle cx="491.3" cy="62.9" r="2.0"/><circle cx="492.0" cy="66.0" r="2.0"/><circle cx="492.8" cy="67.0" r="2.0"/><circle cx="493.2" cy="70.9" r="2.0"/><circle cx="493.5" cy="69.2" r="2.0"/><circle cx="494.0" cy="64.3" r="2.0"/><circle cx="494.2" cy="63.0" r="2.0"/><circle cx="494.4" cy="58.3" r="2.0"/><circle cx="495.2" cy="56.3" r="2.0"/><circle cx="496.2" cy="53.4" r="2.0"/><circle cx="496.6" cy="52.0" r="2.0"/><circle cx="498.1" cy="49.0" r="2.0"/><circle cx="499.5" cy="51.0" r="2.0"/><circle cx="500.4" cy="49.8" r="2.0"/><circle cx="501.0" cy="46.2" r="2.0"/><circle cx="501.8" cy="54.0" r="2.0"/><circle cx="502.1" cy="56.7" r="2.0"/><circle cx="502.5" cy="60.7" r="2.0"/><circle cx="504.0" cy="58.0" r="2.0"/><circle cx="505.4" cy="56.3" r="2.0"/><circle cx="506.0" cy="59.2" r="2.0"/><circle cx="505.9" cy="62.1" r="2.0"/><circle cx="506.4" cy="64.0" r="2.0"/><circle cx="506.8" cy="66.8" r="2.0"/><circle cx="507.4" cy="70.9" r="2.0"/><circle cx="507.7" cy="74.2" r="2.0"/><circle cx="508.6" cy="76.0" r="2.0"/><circle cx="509.4" cy="78.9" r="2.0"/><circle cx="509.8" cy="81.0" r="2.0"/></g>

<line x1="218.7" y1="67.3" x2="230.7" y2="67.3" stroke="#1A96DC" stroke-width="1.1"/><circle cx="224.7" cy="67.3" r="1.8" fill="#1A96DC"/>
<text x="232.1" y="71.2" font-size="11.5">Stroke 1</text>
<line x1="318.7" y1="67.3" x2="330.7" y2="67.3" stroke="#FF7A1F" stroke-width="1.1"/><circle cx="324.7" cy="67.3" r="1.8" fill="#FF7A1F"/>
<text x="332.09999999999997" y="71.2" font-size="11.5">Stroke 2</text>
<line x1="218.7" y1="83.7" x2="230.7" y2="83.7" stroke="#A5A5A5" stroke-width="1.1"/><circle cx="224.7" cy="83.7" r="1.8" fill="#A5A5A5"/>
<text x="232.1" y="87.60000000000001" font-size="11.5">Stroke 3</text>
<line x1="318.7" y1="83.7" x2="330.7" y2="83.7" stroke="#FFC000" stroke-width="1.1"/><circle cx="324.7" cy="83.7" r="1.8" fill="#FFC000"/>
<text x="332.09999999999997" y="87.60000000000001" font-size="11.5">Stroke 4</text>
<defs><linearGradient id="ga" x1="0" x2="1" y1="0" y2="0"><stop offset="0" stop-color="#2e9ad6"/><stop offset="0.55" stop-color="#2a8fca"/><stop offset="1" stop-color="#1f76ad"/></linearGradient>
<linearGradient id="gb" x1="1" x2="0" y1="0" y2="0"><stop offset="0" stop-color="#2e9ad6"/><stop offset="0.55" stop-color="#2a8fca"/><stop offset="1" stop-color="#1f76ad"/></linearGradient></defs>
<path d="M111.1,164.5 C110.5,158 108.5,154 106,151.5 C102,147 98,145 94.5,144 C90,142.8 87,142.5 84.4,142.5 C80,142.6 77,143.5 74.2,144.7 C71,146 68.5,148 66.5,150.3 C64.8,152.4 63.6,154.6 62.8,157.3 L59.5,159 L64.8,165.2 L71.2,159 L68.9,158.2 C69.2,156 69.7,154.3 70.6,152.6 C71.8,150.4 73.3,148.6 75.4,147.1 C78,145.3 81,144.3 84.4,144.2 C87,144.2 89.5,144.8 92,146.5 C96,149 99.5,151 102.2,155 C104,158 105,161 105.3,164.5 Z" fill="url(#ga)"/>
<path d="M475.3,201.1 C475.8,196 477,192.5 479,189.7 C481.5,186.5 484.5,184 487.6,182.4 C491.5,180.3 495.5,179.5 500,179.5 C504,179.6 507.5,180.4 510.9,181.7 C514.5,183.3 517.5,185.5 519.6,188.3 C521.4,190.6 522.7,192.8 523.6,195 L526.3,195.8 L521.8,201.9 L514.9,195.8 L517.9,194.9 C517.4,192.8 516.5,190.8 515.3,189 C513.5,186.5 511,184.6 508,183.2 C505.5,181.9 503,180.9 500,180.7 C497,180.9 494.5,182 492,183.9 C488.5,186.3 485.5,189 483.3,192 C481.5,195 480.7,198 480.4,201.1 Z" fill="url(#gb)"/>
<rect x="90" y="165.5" width="101.19999999999999" height="29.900000000000006" fill="#fff" stroke="#3a3a3a" stroke-width="0.9"/><text x="95.2" y="178.8" font-size="11.5">Repositioning and</text><text x="95.2" y="192.2" font-size="11.5">Load Locking</text>
<rect x="232.4" y="229.8" width="93.4" height="35.39999999999998" fill="#fff" stroke="#3a3a3a" stroke-width="0.9"/><text x="237.5" y="242.9" font-size="11.5">Compaction &amp;</text><text x="237.5" y="256.4" font-size="11.5">Load stage</text>
<rect x="398.7" y="201.3" width="98.90000000000003" height="33.89999999999998" fill="#fff" stroke="#3a3a3a" stroke-width="0.9"/><text x="403.5" y="214.7" font-size="11.5">Bearing Capacity</text><text x="403.5" y="227.6" font-size="11.5">Failure stage</text>
<path d="M480.5,36.8H484L501,46" fill="none" stroke="#000" stroke-width="1"/>
<text x="453.6" y="40.6" font-size="11.7">9 KN</text>
<path d="M79.4,275L90,298H94.6" fill="none" stroke="#000" stroke-width="1"/>
<text x="95.6" y="302.6" font-size="11.8">1.82 KN</text>
</svg>
</body></html>
